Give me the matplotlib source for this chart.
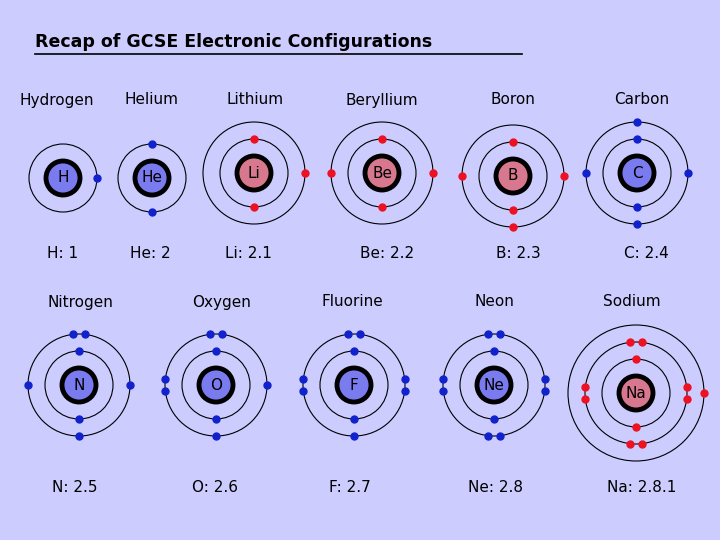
import numpy as np
import matplotlib.pyplot as plt
from matplotlib.patches import Ellipse

names = ['Hydrogen', 'Helium', 'Lithium', 'Beryllium', 'Boron', 'Carbon',
         'Nitrogen', 'Oxygen', 'Fluorine', 'Neon', 'Sodium']
symbols = ['H', 'He', 'Li', 'Be', 'B', 'C', 'N', 'O', 'F', 'Ne', 'Na']
configs = [[1], [2], [2, 1], [2, 2], [2, 3], [2, 4],
           [2, 5], [2, 6], [2, 7], [2, 8], [2, 8, 1]]
red_atoms = ['Li', 'Be', 'B', 'Na']

# layout (pixel coordinates)
centers = [(63, 178), (152, 178), (254, 173), (382, 173), (513, 176), (637, 173),
           (79, 385), (216, 385), (354, 385), (494, 385), (636, 393)]
name_pos = [(57, 100), (152, 100), (255, 100), (382, 100), (513, 100), (642, 100),
            (80, 302), (222, 302), (352, 302), (494, 302), (632, 302)]
label_pos = [(63, 253), (150, 253), (248, 253), (387, 253), (518, 253), (646, 253),
             (75, 488), (215, 488), (350, 488), (495, 488), (642, 488)]
shell_r = [34, 51, 68]

BLUE_N = '#7b7bf0'
PINK_N = '#d8788f'

fig = plt.figure(figsize=(7.2, 5.4), dpi=100)
fig.patch.set_facecolor('#ccccff')
ax = fig.add_axes([0, 0, 1, 1])
ax.set_xlim(0, 720)
ax.set_ylim(540, 0)
ax.axis('off')

ax.text(35, 42, 'Recap of GCSE Electronic Configurations', fontsize=12.5,
        fontweight='bold', ha='left', va='center')
ax.plot([35, 522], [54, 54], color='black', lw=1.2)


def shell_angles(n, first):
    if first:
        return [0] if n == 1 else [90, 270]
    singles = [0, 180, 270, 90]
    if n <= 4:
        return singles[:n]
    # pairs fill in order: top, left, right, bottom
    order = [90, 180, 0, 270]
    out = []
    for i, a in enumerate(order):
        if i < n - 4:
            out += [a - 7, a + 7]
        else:
            out.append(a)
    return out


for name, sym, cfg, (cx, cy), (nx, ny), (lx, ly) in zip(
        names, symbols, configs, centers, name_pos, label_pos):
    red = sym in red_atoms
    ecol = '#ee1122' if red else '#1122cc'
    ax.text(nx, ny, name, ha='center', va='center', fontsize=11)
    ax.text(lx, ly, sym + ': ' + '.'.join(str(c) for c in cfg),
            ha='center', va='center', fontsize=11)
    for i, n in enumerate(cfg):
        r0 = shell_r[i]
        ax.add_patch(Ellipse((cx, cy), 2 * r0, 2 * r0, fill=False, lw=0.8, ec='black'))
        for a in shell_angles(n, i == 0):
            r = np.deg2rad(a)
            ax.plot(cx + r0 * np.cos(r), cy - r0 * np.sin(r), 'o', color=ecol, ms=5)
    ax.add_patch(Ellipse((cx, cy), 34, 34, fc=PINK_N if red else BLUE_N,
                         ec='black', lw=3.5, zorder=3))
    ax.text(cx, cy, sym, ha='center', va='center', fontsize=11, zorder=4)

fig.savefig('out.png', dpi=100, facecolor=fig.get_facecolor())
